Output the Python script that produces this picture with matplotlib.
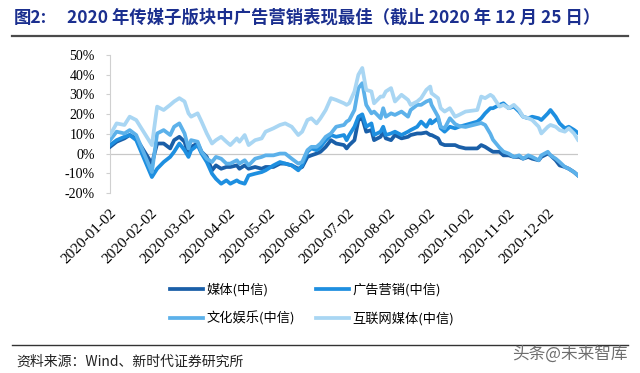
import matplotlib
matplotlib.use("Agg")
import matplotlib.pyplot as plt
import matplotlib.dates as mdates
import pandas as pd
from matplotlib.lines import Line2D

plt.rcParams['font.family'] = ['Noto Sans CJK SC', 'DejaVu Sans']

# ---- data (% change since 2020-01-02) ----
dates = [
    "2020-01-02", "2020-01-07", "2020-01-13", "2020-01-17", "2020-01-22",
    "2020-02-03", "2020-02-07", "2020-02-12", "2020-02-17", "2020-02-20",
    "2020-02-24", "2020-02-28", "2020-03-02", "2020-03-04", "2020-03-09",
    "2020-03-12", "2020-03-16", "2020-03-20", "2020-03-23", "2020-03-27",
    "2020-03-31", "2020-04-03", "2020-04-08", "2020-04-10", "2020-04-14",
    "2020-04-17", "2020-04-22", "2020-04-27", "2020-04-30", "2020-05-06",
    "2020-05-11", "2020-05-15", "2020-05-20", "2020-05-25", "2020-05-28",
    "2020-06-01", "2020-06-04", "2020-06-08", "2020-06-11", "2020-06-15",
    "2020-06-19", "2020-06-23", "2020-06-29", "2020-07-01", "2020-07-03",
    "2020-07-07", "2020-07-10", "2020-07-13", "2020-07-16", "2020-07-20",
    "2020-07-22", "2020-07-27", "2020-07-29", "2020-07-31", "2020-08-04",
    "2020-08-07", "2020-08-12", "2020-08-17", "2020-08-19", "2020-08-24",
    "2020-08-27", "2020-08-31", "2020-09-03", "2020-09-04", "2020-09-09",
    "2020-09-11", "2020-09-14", "2020-09-18", "2020-09-22", "2020-09-25",
    "2020-09-30", "2020-10-09", "2020-10-12", "2020-10-15", "2020-10-19",
    "2020-10-21", "2020-10-26", "2020-10-29", "2020-11-02", "2020-11-06",
    "2020-11-10", "2020-11-13", "2020-11-17", "2020-11-20", "2020-11-25",
    "2020-11-27", "2020-12-02", "2020-12-04", "2020-12-08", "2020-12-11",
    "2020-12-15", "2020-12-18", "2020-12-22", "2020-12-25",
]

media = [
    3.4, 6.0, 7.7, 9.4, 7.7,
    -5.1, 5.1, 5.1, 2.6, 6.8,
    8.5, 6.0, -0.9, 3.4, 5.1,
    0.9, -1.7, -8.5, -6.0, -7.7,
    -6.8, -6.8, -6.0, -7.7, -6.0,
    -7.7, -6.8, -7.7, -6.8, -6.8,
    -5.1, -5.1, -6.0, -7.7, -6.8,
    -1.7, -0.9, 0.0, 0.9, 3.4,
    6.8, 5.1, 4.3, 2.6, 4.3,
    6.8, 17.0, 17.9, 11.1, 11.9,
    6.8, 8.5, 11.1, 7.7, 6.8,
    9.4, 7.7, 8.5, 9.4, 10.2,
    10.2, 10.7, 9.4, 9.4, 7.7,
    5.1, 4.3, 4.3, 4.3, 3.4,
    2.6, 2.6, 4.3, 3.4, 1.7,
    0.9, 0.9, -0.9, -0.9, -1.7,
    -1.7, -2.6, -1.7, -2.6, -3.4,
    -1.7, 0.0, -0.9, -3.4, -6.0,
    -6.8, -7.7, -9.4, -11.1,
]

advertising = [
    4.3, 6.8, 8.5, 9.4, 6.8,
    -11.9, -7.7, -4.3, -1.7, 0.9,
    5.1, 1.7, -1.7, 1.7, 4.3,
    0.0, -4.3, -10.2, -12.8, -15.3,
    -13.6, -15.3, -13.6, -14.5, -15.3,
    -11.1, -10.2, -9.4, -8.5, -6.0,
    -4.3, -5.1, -6.0, -8.5, -6.0,
    0.9, 2.6, 1.7, 3.4, 6.8,
    9.4, 8.5, 9.4, 6.8, 9.4,
    13.6, 18.7, 19.9, 13.6, 15.3,
    9.4, 11.1, 13.6, 9.4, 10.2,
    11.1, 9.4, 11.1, 11.9, 13.6,
    16.2, 13.6, 17.0, 15.3, 17.9,
    12.8, 11.1, 13.6, 12.8, 13.6,
    14.5, 16.2, 17.9, 20.4, 23.0,
    23.0, 24.7, 25.5, 23.0, 23.8,
    21.3, 18.7, 17.9, 18.7, 17.9,
    17.0, 20.4, 22.1, 18.7, 15.3,
    12.8, 13.6, 12.0, 10.5,
]

entertainment = [
    6.8, 11.1, 10.2, 11.9, 9.4,
    -9.4, 10.2, 11.9, 9.4, 13.6,
    15.3, 10.2, 2.6, 6.8, 6.0,
    0.9, -2.6, -4.3, -1.7, -2.6,
    -5.1, -5.1, -3.4, -5.1, -3.4,
    -6.0, -2.6, -1.7, -0.9, -0.9,
    0.0, 0.0, -2.6, -5.1, -4.3,
    1.7, 3.4, 3.4, 5.1, 8.5,
    10.2, 13.6, 14.5, 16.2, 17.0,
    22.1, 33.2, 35.7, 24.7, 20.4,
    21.3, 17.9, 23.0, 18.7, 20.4,
    19.6, 21.3, 18.7, 22.1, 24.7,
    24.7, 26.4, 27.2, 24.7, 18.7,
    13.6, 12.8, 17.9, 15.0, 14.0,
    13.5, 15.0, 15.5, 14.5, 10.0,
    7.0, 3.0, 1.0, 0.0, -1.7,
    -0.9, -2.6, -0.9, -1.7, -3.4,
    -0.9, 0.9, -0.9, -2.6, -4.3,
    -6.8, -7.7, -9.4, -11.1,
]

internet = [
    9.4, 15.3, 14.5, 18.7, 17.0,
    4.3, 23.8, 22.1, 24.7, 26.4,
    28.1, 26.4, 20.4, 18.7, 20.4,
    16.2, 10.2, 5.1, 6.8, 8.5,
    6.0, 4.3, 7.7, 6.0, 9.4,
    4.3, 6.8, 7.7, 11.1, 12.8,
    14.5, 15.3, 13.6, 9.4, 11.1,
    17.0, 17.9, 15.3, 17.9, 22.1,
    28.1, 27.2, 25.5, 24.7, 25.5,
    31.5, 40.0, 43.4, 32.3, 31.5,
    25.5, 28.9, 28.9, 31.5, 33.2,
    26.4, 29.8, 27.2, 24.7, 26.4,
    28.1, 32.3, 34.0, 30.6, 28.1,
    23.0, 21.3, 23.0, 18.7, 19.6,
    21.3, 22.1, 28.9, 28.1, 29.8,
    28.9, 23.8, 24.7, 23.0, 24.7,
    22.1, 18.7, 17.9, 17.0, 13.6,
    10.2, 13.6, 14.5, 13.6, 11.9,
    11.1, 12.8, 10.2, 7.0,
]

series_names = ["媒体(中信)", "广告营销(中信)", "文化娱乐(中信)", "互联网媒体(中信)"]
series_colors = ["#1a5fa8", "#1e8fe0", "#5cb1ea", "#a9d6f3"]
tick_dates = ["2020-%02d-02" % m for m in range(1, 13)]
y_ticks = [-20, -10, 0, 10, 20, 30, 40, 50]

x = pd.to_datetime(dates)

fig = plt.figure(figsize=(6.4, 3.73), dpi=100)
ax = fig.add_axes([0.172, 0.4826, 0.731, 0.370])

lines = []
for vals, name, col in zip([media, advertising, entertainment, internet],
                           series_names, series_colors):
    ln, = ax.plot(x, vals, color=col, lw=2.7, label=name,
                  solid_joinstyle="round", zorder=3)
    lines.append(ln)

ax.axhline(0, color="#c8c8c8", lw=0.9, zorder=1)
ax.set_xlim(pd.Timestamp("2020-01-02"), pd.Timestamp("2020-12-25"))
ax.set_ylim(-20, 50)
ax.set_yticks(y_ticks)
ax.set_yticklabels(["%d%%" % v for v in y_ticks], family="Liberation Serif",
                   fontsize=10)
ax.set_xticks(pd.to_datetime(tick_dates))
ax.xaxis.set_major_formatter(mdates.DateFormatter("%Y-%m-%d"))
for lab in ax.get_xticklabels():
    lab.set_family("Liberation Serif")
    lab.set_fontsize(11)
    lab.set_rotation(45)
    lab.set_ha("right")
    lab.set_va("top")
    lab.set_rotation_mode("anchor")

for s in ["top", "right", "bottom"]:
    ax.spines[s].set_visible(False)
ax.spines["left"].set_color("#d0d0d0")
ax.tick_params(axis="y", length=3, color="#d0d0d0", pad=8)
ax.tick_params(axis="x", length=0, pad=10)

# legend: two rows, media/advertising on top
order = [0, 2, 1, 3]
fig.legend([lines[i] for i in order], [series_names[i] for i in order],
           ncol=2, loc="upper left", bbox_to_anchor=(0.258, 0.256),
           frameon=False, fontsize=9.5, handlelength=2.5, handletextpad=0.25,
           columnspacing=1.6, labelspacing=1.15, borderaxespad=0)

# title and rules
fig.text(0.022, 0.952, "图2:", fontsize=12.5, fontweight="bold", color="#1b2f8f",
         va="center")
fig.text(0.105, 0.952, "2020 年传媒子版块中广告营销表现最佳（截止 2020 年 12 月 25 日）",
         fontsize=12.5, fontweight="bold", color="#1b2f8f", va="center")
fig.add_artist(Line2D([0.019, 0.981], [0.903, 0.903], color="#4a4a4a", lw=1.6))
fig.add_artist(Line2D([0.019, 0.981], [0.075, 0.075], color="#333333", lw=1.0))

fig.text(0.025, 0.030, "资料来源：Wind、新时代证券研究所", fontsize=10,
         color="#222222", va="center")
fig.text(0.80, 0.050, "头条@未来智库", fontsize=12, color="#6e6e6e", va="center")

fig.savefig("out.png", dpi=100, facecolor="white")
